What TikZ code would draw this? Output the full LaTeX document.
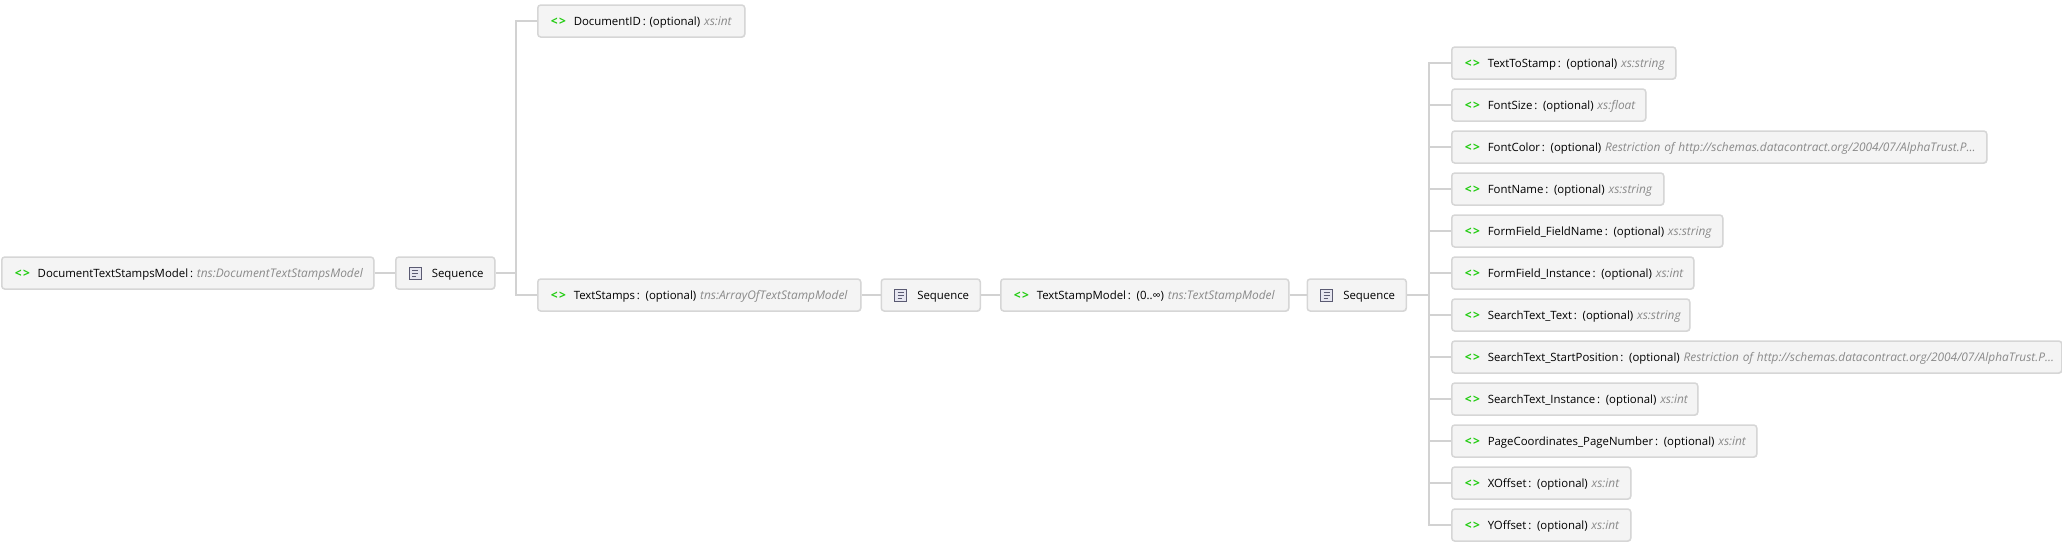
\documentclass[tikz,border=0pt]{standalone}
\usepackage{fontspec}
\setmainfont{Open Sans}
\usepackage{xcolor}
\usetikzlibrary{positioning}
\usetikzlibrary{shadows}
\definecolor{boxfill}{HTML}{F4F4F4}
\definecolor{boxline}{HTML}{D6D6D6}
\definecolor{wire}{HTML}{D2D2D2}
\definecolor{tagcol}{HTML}{22CC11}
\definecolor{typecol}{HTML}{8A8A8A}
\definecolor{iconfill}{HTML}{E6E6F0}
\definecolor{iconline}{HTML}{5A5A72}
\newcommand{\elemlabel}[3]{\mbox{\makebox[23pt][l]{\textcolor{tagcol}{\fontsize{12pt}{12pt}\selectfont\bfseries<\kern1.5pt>}}#1\,: #2\textcolor{typecol}{\fontsize{11.9pt}{12pt}\selectfont\itshape\ #3}}}
\newcommand{\seqlabel}{\mbox{\hspace*{23pt}Sequence}}
\begin{document}
\begin{tikzpicture}[x=1pt, y=-1pt, font=\fontsize{11.4pt}{12pt}\selectfont,
    main/.style = {draw=boxline, fill=boxfill, line width=1.5pt, rounded corners=3pt, inner xsep=13pt, inner ysep=0pt, minimum height=32pt, text height=9.5pt, text depth=1.5pt, anchor=west, align=left, drop shadow={shadow xshift=0.6pt, shadow yshift=-0.8pt, opacity=0.18}},
    wd/.style = {text width=#1pt-26pt},
    wire/.style = {draw=wire, line width=1.5pt}]
    \useasboundingbox (0,0) rectangle (2062,546);

    \node[main, wd=372] (root) at (1,273) {\elemlabel{DocumentTextStampsModel}{\unskip}{tns:DocumentTextStampsModel}};
    \node[main, wd=99] (seqa) at (395,273) {\seqlabel};
    \node[main, wd=207] (docid) at (537,21) {\elemlabel{DocumentID}{(optional)}{xs:int}};
    \node[main, wd=323] (stamps) at (537,295) {\elemlabel{TextStamps}{(optional)}{tns:ArrayOfTextStampModel}};
    \node[main, wd=99] (seqb) [right=19pt of stamps] {\seqlabel};
    \node[main, wd=288] (model) [right=19pt of seqb] {\elemlabel{TextStampModel}{(0..∞)}{tns:TextStampModel}};
    \node[main, wd=99] (seqc) [right=17pt of model] {\seqlabel};

    \node[main, wd=224] (a) at (1451,63) {\elemlabel{TextToStamp}{(optional)}{xs:string}};
    \node[main, wd=194] (b) [below=42pt of a.west, anchor=west] {\elemlabel{FontSize}{(optional)}{xs:float}};
    \node[main, wd=535] (c) [below=42pt of b.west, anchor=west] {\elemlabel{FontColor}{(optional)}{Restriction of http://schemas.datacontract.org/2004/07/AlphaTrust.P...}};
    \node[main, wd=212] (d) [below=42pt of c.west, anchor=west] {\elemlabel{FontName}{(optional)}{xs:string}};
    \node[main, wd=271] (e) [below=42pt of d.west, anchor=west] {\elemlabel{FormField\_FieldName}{(optional)}{xs:string}};
    \node[main, wd=242] (f) [below=42pt of e.west, anchor=west] {\elemlabel{FormField\_Instance}{(optional)}{xs:int}};
    \node[main, wd=238] (g) [below=42pt of f.west, anchor=west] {\elemlabel{SearchText\_Text}{(optional)}{xs:string}};
    \node[main, wd=610] (h) [below=42pt of g.west, anchor=west] {\elemlabel{SearchText\_StartPosition}{(optional)}{Restriction of http://schemas.datacontract.org/2004/07/AlphaTrust.P...}};
    \node[main, wd=246] (i) [below=42pt of h.west, anchor=west] {\elemlabel{SearchText\_Instance}{(optional)}{xs:int}};
    \node[main, wd=305] (j) [below=42pt of i.west, anchor=west] {\elemlabel{PageCoordinates\_PageNumber}{(optional)}{xs:int}};
    \node[main, wd=179] (k) [below=42pt of j.west, anchor=west] {\elemlabel{XOffset}{(optional)}{xs:int}};
    \node[main, wd=179] (l) [below=42pt of k.west, anchor=west] {\elemlabel{YOffset}{(optional)}{xs:int}};

    \foreach \s in {seqa, seqb, seqc} {
        \draw[draw=iconline, fill=iconfill, line width=0.8pt] ([xshift=14pt, yshift=6pt]\s.west) rectangle ++(12,12);
        \draw[draw=iconline, line width=0.8pt] ([xshift=17pt, yshift=3pt]\s.west) -- ++(6,0) ([xshift=17pt]\s.west) -- ++(6,0) ([xshift=17pt, yshift=-3pt]\s.west) -- ++(4,0);
    }

    \coordinate (busa) at (516,273);
    \coordinate (busc) at (1429,295);
    \draw[wire] (root) -- (seqa);
    \draw[wire] (seqa) -- (busa);
    \draw[wire] (docid.west) -| (busa);
    \draw[wire] (stamps.west) -| (busa);
    \draw[wire] (stamps) -- (seqb);
    \draw[wire] (seqb) -- (model);
    \draw[wire] (model) -- (seqc);
    \draw[wire] (seqc) -- (busc);
    \foreach \n in {a, b, c, d, e, f, g, h, i, j, k, l}
        \draw[wire] (\n.west) -| (busc);
\end{tikzpicture}
\end{document}
